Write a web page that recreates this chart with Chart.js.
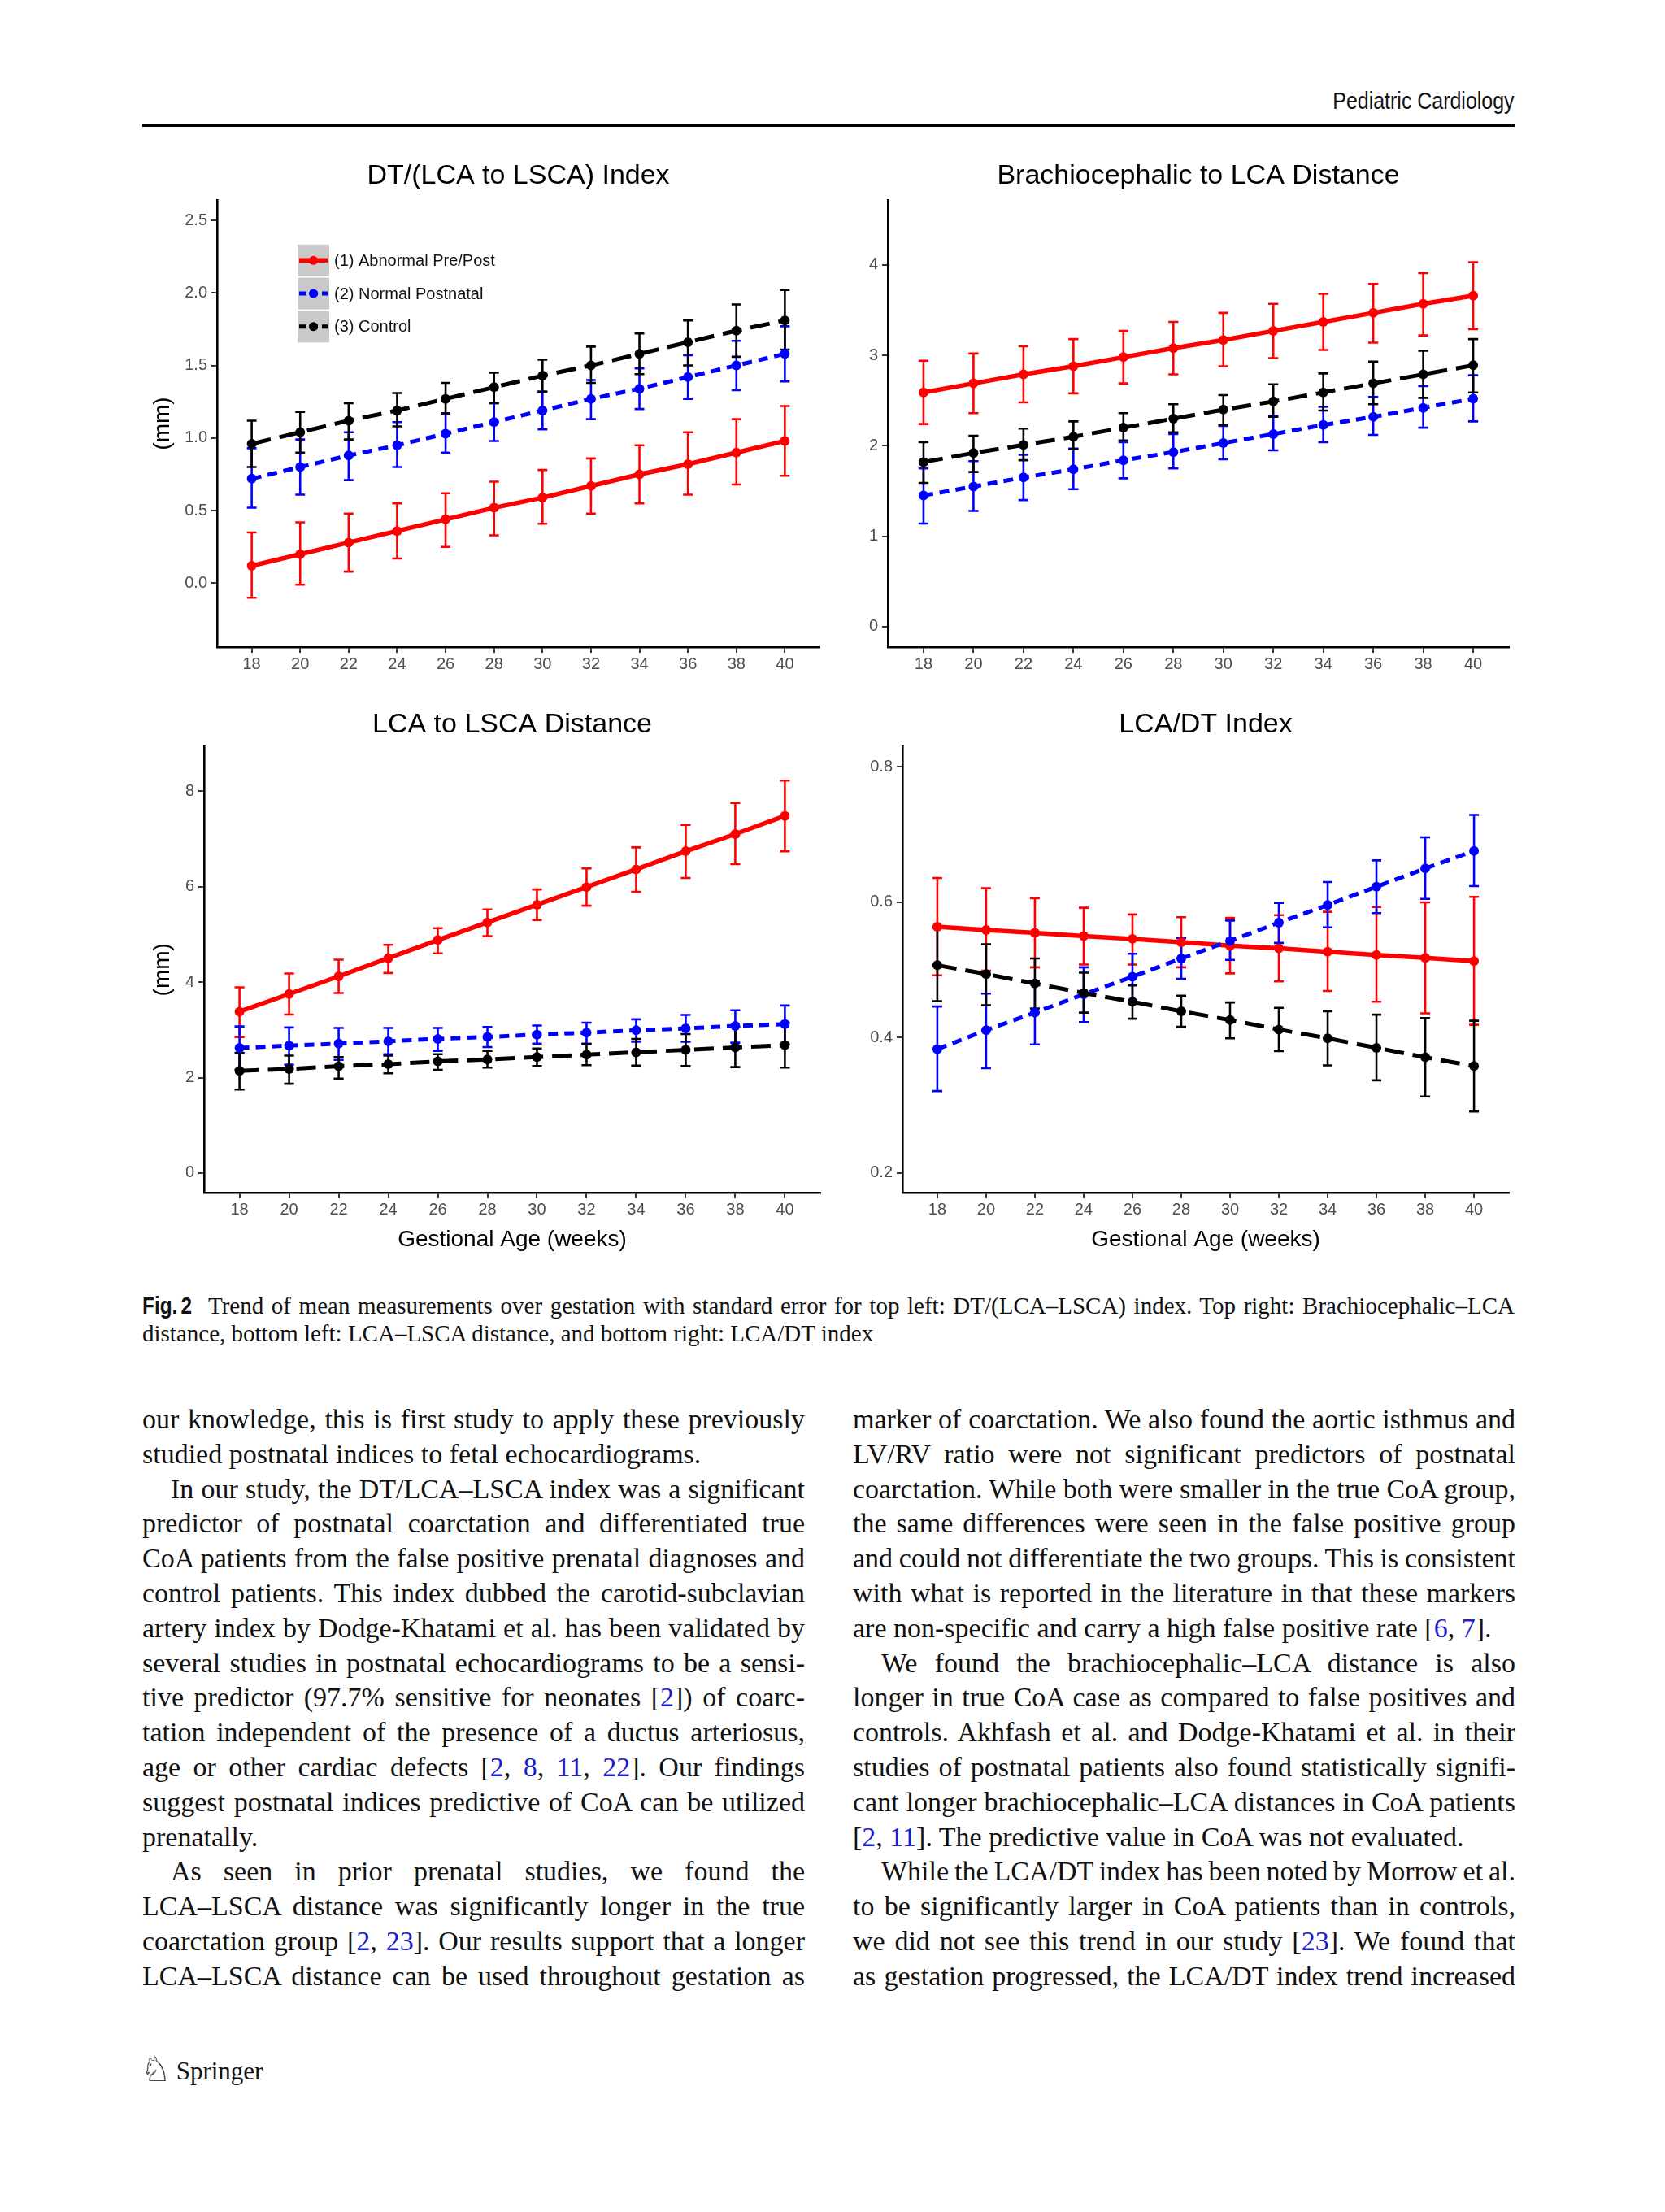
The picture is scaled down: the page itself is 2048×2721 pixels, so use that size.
<!DOCTYPE html>
<html>
<head>
<meta charset="utf-8">
<title>Pediatric Cardiology - Fig. 2</title>
<script src="https://cdn.jsdelivr.net/npm/chart.js@4.4.1/dist/chart.umd.min.js"></script>
<style>
html, body { margin: 0; padding: 0; background: #fff; }
#page { position: relative; width: 2048px; height: 2721px; overflow: hidden; background: #fff; }
#page canvas { position: absolute; }
.head { position: absolute; right: 185px; top: 106px; font: 29px/36px "Liberation Sans", Arial, sans-serif; color: #111; transform: scaleX(0.86); transform-origin: right center; white-space: nowrap; }
.rule { position: absolute; left: 175px; top: 152px; width: 1688px; height: 4px; background: #000; }
.cap { position: absolute; left: 175px; top: 1589px; width: 1688px; font: 29px/34.4px "Liberation Serif", "Times New Roman", serif; color: #111; }
.cap b { display: inline-block; width: 64px; margin-right: 17px; white-space: nowrap; text-indent: 0; font-family: "Liberation Sans", Arial, sans-serif; font-weight: bold; transform: scaleX(0.84); transform-origin: left center; }
.col { position: absolute; top: 1725px; width: 815px; font: 34px/42.8px "Liberation Serif", "Times New Roman", serif; color: #111; }
.col div { height: 42.8px; }
.cap div { height: 34.4px; }
.j { text-align: justify; text-align-last: justify; word-spacing: -3px; }
.i { text-indent: 35px; }
.r { color: #1c1cd0; }
.logo { position: absolute; left: 173px; top: 2522px; font: 31px/48px "Liberation Serif", "Times New Roman", serif; color: #111; white-space: nowrap; }
.logo span { font-family: "DejaVu Sans", sans-serif; font-size: 42px; margin-right: 6px; vertical-align: -2px; }
</style>
</head>
<body>
<div id="page">
  <div class="head">Pediatric Cardiology</div>
  <div class="rule"></div>

  <canvas id="chartDT"></canvas>
  <canvas id="chartBC"></canvas>
  <canvas id="chartLS"></canvas>
  <canvas id="chartLD"></canvas>

  <div class="cap">
    <div class="j"><b>Fig. 2</b>Trend of mean measurements over gestation with standard error for top left: DT/(LCA–LSCA) index. Top right: Brachiocephalic–LCA</div>
    <div>distance, bottom left: LCA–LSCA distance, and bottom right: LCA/DT index</div>
  </div>

  <div class="col" style="left:175px">
    <div class="j">our knowledge, this is first study to apply these previously</div>
    <div>studied postnatal indices to fetal echocardiograms.</div>
    <div class="j i">In our study, the DT/LCA–LSCA index was a significant</div>
    <div class="j">predictor of postnatal coarctation and differentiated true</div>
    <div class="j">CoA patients from the false positive prenatal diagnoses and</div>
    <div class="j">control patients. This index dubbed the carotid-subclavian</div>
    <div class="j">artery index by Dodge-Khatami et al. has been validated by</div>
    <div class="j">several studies in postnatal echocardiograms to be a sensi-</div>
    <div class="j">tive predictor (97.7% sensitive for neonates [<span class="r">2</span>]) of coarc-</div>
    <div class="j">tation independent of the presence of a ductus arteriosus,</div>
    <div class="j">age or other cardiac defects [<span class="r">2</span>, <span class="r">8</span>, <span class="r">11</span>, <span class="r">22</span>]. Our findings</div>
    <div class="j">suggest postnatal indices predictive of CoA can be utilized</div>
    <div>prenatally.</div>
    <div class="j i">As seen in prior prenatal studies, we found the</div>
    <div class="j">LCA–LSCA distance was significantly longer in the true</div>
    <div class="j">coarctation group [<span class="r">2</span>, <span class="r">23</span>]. Our results support that a longer</div>
    <div class="j">LCA–LSCA distance can be used throughout gestation as</div>
  </div>

  <div class="col" style="left:1049px">
    <div class="j">marker of coarctation. We also found the aortic isthmus and</div>
    <div class="j">LV/RV ratio were not significant predictors of postnatal</div>
    <div class="j">coarctation. While both were smaller in the true CoA group,</div>
    <div class="j">the same differences were seen in the false positive group</div>
    <div class="j">and could not differentiate the two groups. This is consistent</div>
    <div class="j">with what is reported in the literature in that these markers</div>
    <div>are non-specific and carry a high false positive rate [<span class="r">6</span>, <span class="r">7</span>].</div>
    <div class="j i">We found the brachiocephalic–LCA distance is also</div>
    <div class="j">longer in true CoA case as compared to false positives and</div>
    <div class="j">controls. Akhfash et al. and Dodge-Khatami et al. in their</div>
    <div class="j">studies of postnatal patients also found statistically signifi-</div>
    <div class="j">cant longer brachiocephalic–LCA distances in CoA patients</div>
    <div>[<span class="r">2</span>, <span class="r">11</span>]. The predictive value in CoA was not evaluated.</div>
    <div class="j i">While the LCA/DT index has been noted by Morrow et al.</div>
    <div class="j">to be significantly larger in CoA patients than in controls,</div>
    <div class="j">we did not see this trend in our study [<span class="r">23</span>]. We found that</div>
    <div class="j">as gestation progressed, the LCA/DT index trend increased</div>
  </div>

  <div class="logo"><span>♘</span>Springer</div>
</div>

<script>
// semanas de gestación (eje x)
const weeks = [18, 20, 22, 24, 26, 28, 30, 32, 34, 36, 38, 40];
const groupNames = ['(1) Abnormal Pre/Post', '(2) Normal Postnatal', '(3) Control'];

// DT/(LCA to LSCA) Index
const dtTicks = [0, 0.5, 1, 1.5, 2, 2.5];
const dtRedMean = [0.12, 0.20, 0.28, 0.36, 0.44, 0.52, 0.59, 0.67, 0.75, 0.82, 0.90, 0.98];
const dtRedLow = [-0.10, -0.01, 0.08, 0.17, 0.25, 0.33, 0.41, 0.48, 0.55, 0.61, 0.68, 0.74];
const dtRedHigh = [0.35, 0.42, 0.48, 0.55, 0.62, 0.70, 0.78, 0.86, 0.95, 1.04, 1.13, 1.22];
const dtBlueMean = [0.72, 0.80, 0.88, 0.95, 1.03, 1.11, 1.19, 1.27, 1.34, 1.42, 1.50, 1.58];
const dtBlueLow = [0.52, 0.61, 0.71, 0.80, 0.90, 0.98, 1.06, 1.13, 1.20, 1.27, 1.33, 1.39];
const dtBlueHigh = [0.93, 0.99, 1.04, 1.11, 1.17, 1.24, 1.32, 1.40, 1.48, 1.57, 1.67, 1.77];
const dtBlackMean = [0.96, 1.04, 1.12, 1.19, 1.27, 1.35, 1.43, 1.50, 1.58, 1.66, 1.74, 1.81];
const dtBlackLow = [0.80, 0.90, 0.99, 1.08, 1.17, 1.24, 1.32, 1.38, 1.44, 1.50, 1.56, 1.61];
const dtBlackHigh = [1.12, 1.18, 1.24, 1.31, 1.38, 1.45, 1.54, 1.63, 1.72, 1.81, 1.92, 2.02];

// Brachiocephalic to LCA Distance
const bcTicks = [0, 1, 2, 3, 4];
const bcRedMean = [2.59, 2.69, 2.79, 2.88, 2.98, 3.08, 3.17, 3.27, 3.37, 3.47, 3.57, 3.66];
const bcRedLow = [2.24, 2.36, 2.48, 2.58, 2.69, 2.79, 2.88, 2.97, 3.06, 3.14, 3.22, 3.29];
const bcRedHigh = [2.94, 3.02, 3.10, 3.18, 3.27, 3.37, 3.47, 3.57, 3.68, 3.79, 3.91, 4.03];
const bcBlueMean = [1.45, 1.55, 1.65, 1.74, 1.84, 1.93, 2.03, 2.13, 2.23, 2.32, 2.42, 2.52];
const bcBlueLow = [1.14, 1.28, 1.40, 1.52, 1.64, 1.75, 1.85, 1.95, 2.04, 2.12, 2.20, 2.27];
const bcBlueHigh = [1.75, 1.83, 1.90, 1.97, 2.04, 2.13, 2.22, 2.33, 2.43, 2.54, 2.66, 2.78];
const bcBlackMean = [1.82, 1.92, 2.01, 2.10, 2.20, 2.30, 2.40, 2.49, 2.59, 2.69, 2.79, 2.89];
const bcBlackLow = [1.59, 1.71, 1.84, 1.96, 2.06, 2.15, 2.23, 2.32, 2.39, 2.46, 2.53, 2.59];
const bcBlackHigh = [2.04, 2.11, 2.19, 2.27, 2.36, 2.46, 2.56, 2.68, 2.80, 2.93, 3.05, 3.18];

// LCA to LSCA Distance
const lsTicks = [0, 2, 4, 6, 8];
const lsRedMean = [3.38, 3.75, 4.12, 4.50, 4.88, 5.25, 5.62, 5.99, 6.36, 6.74, 7.10, 7.48];
const lsRedLow = [2.85, 3.32, 3.77, 4.19, 4.60, 4.96, 5.30, 5.60, 5.89, 6.18, 6.47, 6.74];
const lsRedHigh = [3.89, 4.18, 4.47, 4.78, 5.13, 5.52, 5.94, 6.38, 6.82, 7.29, 7.75, 8.22];
const lsBlueMean = [2.62, 2.67, 2.71, 2.76, 2.81, 2.85, 2.90, 2.94, 2.99, 3.03, 3.08, 3.12];
const lsBlueLow = [2.17, 2.27, 2.37, 2.49, 2.56, 2.64, 2.71, 2.71, 2.75, 2.75, 2.73, 2.70];
const lsBlueHigh = [3.07, 3.05, 3.04, 3.04, 3.04, 3.06, 3.09, 3.15, 3.22, 3.31, 3.41, 3.51];
const lsBlackMean = [2.14, 2.18, 2.24, 2.28, 2.34, 2.38, 2.43, 2.48, 2.53, 2.58, 2.63, 2.68];
const lsBlackLow = [1.75, 1.87, 1.98, 2.09, 2.16, 2.21, 2.24, 2.26, 2.25, 2.24, 2.22, 2.21];
const lsBlackHigh = [2.52, 2.46, 2.43, 2.46, 2.49, 2.56, 2.61, 2.70, 2.81, 2.91, 3.06, 3.15];

// LCA/DT Index
const ldTicks = [0.2, 0.4, 0.6, 0.8];
const ldRedMean = [0.564, 0.559, 0.555, 0.550, 0.546, 0.541, 0.536, 0.532, 0.527, 0.522, 0.518, 0.513];
const ldRedLow = [0.492, 0.499, 0.504, 0.508, 0.508, 0.504, 0.495, 0.483, 0.469, 0.453, 0.436, 0.419];
const ldRedHigh = [0.636, 0.621, 0.606, 0.592, 0.582, 0.578, 0.577, 0.581, 0.586, 0.593, 0.600, 0.608];
const ldBlueMean = [0.383, 0.411, 0.437, 0.464, 0.490, 0.517, 0.543, 0.570, 0.596, 0.623, 0.650, 0.676];
const ldBlueLow = [0.321, 0.355, 0.390, 0.423, 0.455, 0.487, 0.515, 0.540, 0.563, 0.584, 0.605, 0.624];
const ldBlueHigh = [0.446, 0.465, 0.484, 0.504, 0.524, 0.547, 0.573, 0.599, 0.630, 0.662, 0.696, 0.729];
const ldBlackMean = [0.507, 0.494, 0.480, 0.466, 0.453, 0.439, 0.426, 0.412, 0.399, 0.385, 0.371, 0.358];
const ldBlackLow = [0.454, 0.448, 0.443, 0.437, 0.428, 0.416, 0.399, 0.380, 0.359, 0.337, 0.313, 0.291];
const ldBlackHigh = [0.562, 0.538, 0.517, 0.496, 0.477, 0.462, 0.452, 0.444, 0.439, 0.434, 0.429, 0.425];

Chart.defaults.font.family = '"Liberation Sans", Arial, Helvetica, sans-serif';

// estilos de las tres series (rojo sólido, azul punteado, negro discontinuo)
const estilos = [
    { color: '#ff0000', dash: [], width: 5.5, order: 3 },
    { color: '#0000ff', dash: [12, 8], width: 5, order: 2 },
    { color: '#000000', dash: [24, 11], width: 5, order: 1 }
];
const capHalf = 0.2;

// barras de error con las escalas del gráfico
const errorBars = {
    id: 'errorBars',
    beforeDatasetsDraw(chart) {
        const ctx = chart.ctx;
        const xs = chart.scales.x, ys = chart.scales.y;
        ctx.save();
        ctx.lineWidth = 2.6;
        ctx.setLineDash([]);
        chart.data.datasets.forEach(ds => {
            ctx.strokeStyle = ds.borderColor;
            ds.errLow.forEach((lo, i) => {
                const w = weeks[i];
                const xc = xs.getPixelForValue(w);
                const x0 = xs.getPixelForValue(w - capHalf);
                const x1 = xs.getPixelForValue(w + capHalf);
                const y0 = ys.getPixelForValue(lo);
                const y1 = ys.getPixelForValue(ds.errHigh[i]);
                ctx.beginPath();
                ctx.moveTo(xc, y0); ctx.lineTo(xc, y1);
                ctx.moveTo(x0, y0); ctx.lineTo(x1, y0);
                ctx.moveTo(x0, y1); ctx.lineTo(x1, y1);
                ctx.stroke();
            });
        });
        ctx.restore();
    }
};

// leyenda interna estilo ggplot (cajas grises)
const insetLegend = {
    id: 'insetLegend',
    afterDatasetsDraw(chart) {
        const ctx = chart.ctx;
        const ca = chart.chartArea;
        const bx = ca.left + 99, by = ca.top + 54, bw = 39, bh = 40.7;
        ctx.save();
        chart.data.datasets.forEach((ds, i) => {
            const top = by + i * bh;
            ctx.fillStyle = '#c9c9c9';
            ctx.fillRect(bx, top + 0.8, bw, bh - 1.6);
            const cy = top + bh / 2;
            ctx.strokeStyle = ds.borderColor;
            ctx.lineWidth = ds.borderWidth;
            ctx.setLineDash(i === 0 ? [] : [9, 5]);
            ctx.beginPath();
            ctx.moveTo(bx + 2, cy); ctx.lineTo(bx + bw - 2, cy);
            ctx.stroke();
            ctx.setLineDash([]);
            ctx.fillStyle = ds.borderColor;
            ctx.beginPath();
            ctx.arc(bx + bw / 2, cy, 5.5, 0, Math.PI * 2);
            ctx.fill();
            ctx.fillStyle = '#111';
            ctx.font = '20px "Liberation Sans", Arial, sans-serif';
            ctx.textBaseline = 'middle';
            ctx.textAlign = 'left';
            ctx.fillText(ds.label, bx + bw + 6, cy + 1);
        });
        ctx.restore();
    }
};

function crearPanel(id, caja, cfg) {
    const cv = document.getElementById(id);
    cv.width = caja.w;
    cv.height = caja.h;
    cv.style.left = caja.x + 'px';
    cv.style.top = caja.y + 'px';

    const series = [cfg.red, cfg.blue, cfg.black];
    const datasets = series.map((s, k) => ({
        label: groupNames[k],
        data: weeks.map((w, i) => ({ x: w, y: s[0][i] })),
        errLow: s[1],
        errHigh: s[2],
        borderColor: estilos[k].color,
        backgroundColor: estilos[k].color,
        pointBackgroundColor: estilos[k].color,
        pointBorderWidth: 0,
        pointRadius: 6,
        borderWidth: estilos[k].width,
        borderDash: estilos[k].dash,
        borderCapStyle: 'butt',
        tension: 0,
        fill: false,
        order: estilos[k].order
    }));

    const plugins = [errorBars];
    if (cfg.legend) plugins.push(insetLegend);

    return new Chart(cv, {
        type: 'line',
        data: { datasets: datasets },
        plugins: plugins,
        options: {
            responsive: false,
            animation: false,
            devicePixelRatio: 1,
            layout: { padding: { left: 0, right: 20, top: 0, bottom: 0 } },
            plugins: {
                legend: { display: false },
                tooltip: { enabled: false },
                title: {
                    display: true,
                    text: cfg.title,
                    fullSize: false,
                    color: '#000',
                    font: { size: 34, weight: 'normal' },
                    padding: { top: 8, bottom: cfg.titleGap }
                }
            },
            scales: {
                x: {
                    type: 'linear',
                    min: 16.57,
                    max: 41.43,
                    afterBuildTicks: s => { s.ticks = weeks.map(v => ({ value: v })); },
                    afterFit: s => { s.height = cfg.xh; },
                    ticks: { color: '#4d4d4d', font: { size: 20 }, padding: 2, maxRotation: 0, autoSkip: false },
                    grid: { drawOnChartArea: false, color: '#333', lineWidth: 2, tickLength: 7 },
                    border: { display: true, color: '#000', width: 2.6 },
                    title: {
                        display: !!cfg.xTitle,
                        text: cfg.xTitle || '',
                        color: '#000',
                        font: { size: 28 },
                        padding: { top: 0, bottom: 4 }
                    }
                },
                y: {
                    type: 'linear',
                    min: cfg.yMin,
                    max: cfg.yMax,
                    afterBuildTicks: s => { s.ticks = cfg.yTicks.map(v => ({ value: v })); },
                    afterFit: s => { s.width = cfg.yw; },
                    ticks: {
                        color: '#4d4d4d',
                        font: { size: 20 },
                        padding: 5,
                        callback: v => v.toFixed(cfg.decimals)
                    },
                    grid: { drawOnChartArea: false, color: '#333', lineWidth: 2, tickLength: 7 },
                    border: { display: true, color: '#000', width: 2.6 },
                    title: {
                        display: !!cfg.yTitle,
                        text: cfg.yTitle || '',
                        color: '#000',
                        font: { size: 28 },
                        padding: { top: 8, bottom: 0 }
                    }
                }
            }
        }
    });
}

crearPanel('chartDT', { x: 175, y: 188, w: 853, h: 648 }, {
    title: 'DT/(LCA to LSCA) Index', titleGap: 9.2, xh: 40, yw: 92,
    yTitle: '(mm)', yMin: -0.44, yMax: 2.64, yTicks: dtTicks, decimals: 1, legend: true,
    red: [dtRedMean, dtRedLow, dtRedHigh],
    blue: [dtBlueMean, dtBlueLow, dtBlueHigh],
    black: [dtBlackMean, dtBlackLow, dtBlackHigh]
});

crearPanel('chartBC', { x: 1032, y: 188, w: 844, h: 648 }, {
    title: 'Brachiocephalic to LCA Distance', titleGap: 9.2, xh: 40, yw: 60,
    yMin: -0.226, yMax: 4.718, yTicks: bcTicks, decimals: 0,
    red: [bcRedMean, bcRedLow, bcRedHigh],
    blue: [bcBlueMean, bcBlueLow, bcBlueHigh],
    black: [bcBlackMean, bcBlackLow, bcBlackHigh]
});

crearPanel('chartLS', { x: 175, y: 863, w: 854, h: 683 }, {
    title: 'LCA to LSCA Distance', titleGap: 6.7, xh: 79, yw: 76,
    yTitle: '(mm)', xTitle: 'Gestional Age (weeks)',
    yMin: -0.409, yMax: 8.93, yTicks: lsTicks, decimals: 0,
    red: [lsRedMean, lsRedLow, lsRedHigh],
    blue: [lsBlueMean, lsBlueLow, lsBlueHigh],
    black: [lsBlackMean, lsBlackLow, lsBlackHigh]
});

crearPanel('chartLD', { x: 1030, y: 863, w: 846, h: 683 }, {
    title: 'LCA/DT Index', titleGap: 6.7, xh: 79, yw: 80,
    xTitle: 'Gestional Age (weeks)',
    yMin: 0.171, yMax: 0.83, yTicks: ldTicks, decimals: 1,
    red: [ldRedMean, ldRedLow, ldRedHigh],
    blue: [ldBlueMean, ldBlueLow, ldBlueHigh],
    black: [ldBlackMean, ldBlackLow, ldBlackHigh]
});
</script>
</body>
</html>
